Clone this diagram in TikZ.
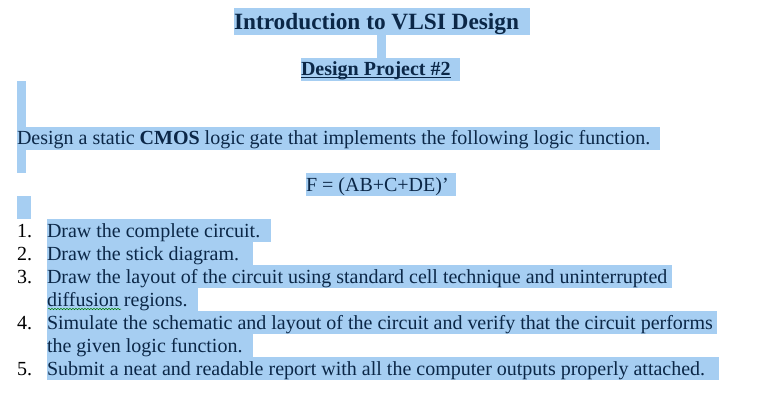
\documentclass[tikz,border=0pt]{standalone}
\usepackage{fontspec}
\setmainfont{Liberation Serif}
\usetikzlibrary{decorations.pathmorphing}
\definecolor{hl}{HTML}{A6CEF2}
\definecolor{ink}{HTML}{0B2747}
\tikzset{x=1pt,y=-1pt,
  hlbox/.style={fill=hl,draw=none},
  txt/.style={anchor=base west,inner sep=0pt,outer sep=0pt,text=ink,font=\fontsize{20}{22}\selectfont},
  num/.style={txt,text=black},
  ttl/.style={txt,font=\fontsize{23.3}{26}\bfseries\selectfont},
  sub/.style={txt,font=\fontsize{20}{22}\bfseries\selectfont}}
\begin{document}
\begin{tikzpicture}
\useasboundingbox (0,0) rectangle (774,417);
\fill[white] (0,0) rectangle (774,417);
% highlights
\fill[hl] (234,8) rectangle (530,35);
\fill[hl] (377,35) rectangle (386,58);
\fill[hl] (301,58) rectangle (460,81);
\fill[hl] (17,81) rectangle (26,173);
\fill[hl] (17,127) rectangle (660,150);
\fill[hl] (306,173) rectangle (456,196);
\fill[hl] (17,196) rectangle (31,219);
\fill[hl] (47,219) rectangle (271,242);
\fill[hl] (47,242) rectangle (253,265);
\fill[hl] (47,265) rectangle (672,288);
\fill[hl] (47,288) rectangle (198,311);
\fill[hl] (47,311) rectangle (717,334);
\fill[hl] (47,334) rectangle (253,357);
\fill[hl] (47,357) rectangle (719,380);
% texts
\node[ttl] (title) at (234,30) {Introduction to VLSI Design};
\node[sub] (proj) at (301,75.5) {Design Project \#2};
\draw[ink,line width=1.2pt] (301,77.5) -- (451,77.5);
\node[txt] (intro) at (17,145) {Design a static \textbf{CMOS} logic gate that implements the following logic function.};
\node[txt] (func) at (306,191) {F = (AB+C+DE)’};
\node[num] (n1) at (17,237) {1.};
\node[num] (n2) at (17,260) {2.};
\node[num] (n3) at (17,283) {3.};
\node[num] (n4) at (17,329) {4.};
\node[num] (n5) at (17,375) {5.};
\node[txt] (l1) at (47,237) {Draw the complete circuit.};
\node[txt] (l2) at (47,260) {Draw the stick diagram.};
\node[txt] (l3) at (47,283) {Draw the layout of the circuit using standard cell technique and uninterrupted};
\node[txt] (l3b) at (47,306) {diffusion regions.};
\node[txt] (l4) at (47,329) {Simulate the schematic and layout of the circuit and verify that the circuit performs};
\node[txt] (l4b) at (47,352) {the given logic function.};
\node[txt] (l5) at (47,375) {Submit a neat and readable report with all the computer outputs properly attached.};
\draw[green!50!black,line width=0.5pt,decorate,decoration={snake,amplitude=0.7pt,segment length=3pt}] (48,309) -- (121,309);
\end{tikzpicture}
\end{document}
